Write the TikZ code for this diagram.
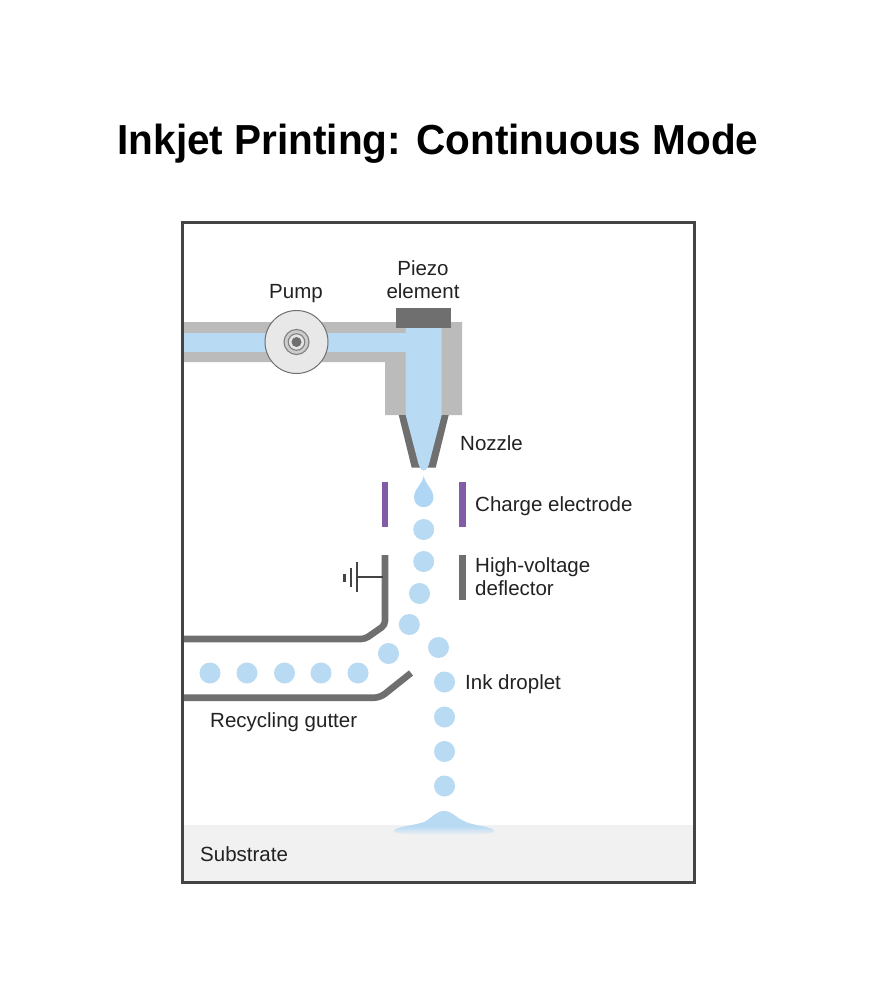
\documentclass[tikz,border=0pt]{standalone}
\usepackage{fontspec}
\setmainfont{Liberation Sans}
\newfontfamily\titlefont[FakeStretch=0.965]{Liberation Sans}
\definecolor{ink}{HTML}{B8DAF3}
\definecolor{inkb}{HTML}{B0D6F6}
\definecolor{wall}{HTML}{BBBBBB}
\definecolor{dark}{HTML}{6F6F6F}
\definecolor{purp}{HTML}{825CA7}
\definecolor{sub}{HTML}{F1F1F1}
\definecolor{frame}{HTML}{444444}
\definecolor{lab}{HTML}{222222}
\pgfdeclareverticalshading{splashfade}{100bp}{color(0bp)=(sub);color(25bp)=(sub);color(43bp)=(ink);color(75bp)=(ink);color(100bp)=(ink)}
\tikzset{
  x=1pt,y=-1pt,
  drop/.style={circle,fill=ink,draw=none,minimum size=21pt,inner sep=0pt},
  lbl/.style={text=lab,inner sep=0pt,anchor=base west,font=\fontsize{20.5}{23}\selectfont},
  plate/.style={draw=none,inner sep=0pt,minimum width=6.6pt,minimum height=45pt},
  gutter/.style={draw=dark,line width=6.6pt,rounded corners=#1},
  gnd/.style={draw=frame,line width=2.3pt}
}
\begin{document}
\begin{tikzpicture}
\useasboundingbox (0,0) rectangle (875,1000);
\fill[white] (0,0) rectangle (875,1000);
\node[anchor=base,inner sep=0pt,font=\titlefont\fontsize{42}{48}\bfseries\selectfont,text=black] (title) at (438,155) {Inkjet Printing: Continuous Mode};
% substrate
\fill[sub] (182.5,825) rectangle (694.5,882.5);
% pipe
\fill[wall] (182.5,322) -- (462,322) -- (462,415) -- (385,415) -- (385,362) -- (182.5,362) -- cycle;
\fill[ink] (182.5,332.7) rectangle (406,351.7);
% nozzle
\fill[dark] (398.7,415) -- (411.7,467.7) -- (435.7,467.7) -- (448.7,415) -- cycle;
\fill[ink] (405.7,327) -- (441.7,327) -- (441.7,415) -- (429,464) .. controls (427.5,469) and (425,470.7) .. (423.7,470.7) .. controls (422.4,470.7) and (420,469) .. (418.5,464) -- (405.7,415) -- cycle;
\fill[dark] (396,308) rectangle (451,327.7);
% pump
\node[circle,draw=dark,fill=black!9,line width=1pt,minimum size=63pt,inner sep=0pt] (pump) at (296.5,342) {};
\node[circle,draw=black!50,fill=black!20,line width=1.1pt,minimum size=25pt,inner sep=0pt] (ring1) at (pump) {};
\node[circle,draw=black!50,fill=black!10,line width=1.1pt,minimum size=16.5pt,inner sep=0pt] (ring2) at (pump) {};
\node[circle,fill=dark,minimum size=10pt,inner sep=0pt] (core) at (pump) {};
% first droplet
\fill[inkb] (423.7,476) .. controls (425,484) and (433.4,489) .. (433.4,497.5) .. controls (433.4,503) and (429,507.2) .. (423.7,507.2) .. controls (418.4,507.2) and (414,503) .. (414,497.5) .. controls (414,489) and (422.4,484) .. (423.7,476) -- cycle;
% electrodes
\node[plate,fill=purp] (elL) at (384.8,504.8) {};
\node[plate,fill=purp] (elR) at (462.6,504.8) {};
\node[plate,fill=dark] (defl) at (462.6,577.5) {};
% gutter
\coordinate (g1) at (385,555);
\coordinate (g2) at (385,625);
\coordinate (g3) at (365,639);
\coordinate (g4) at (182.5,639);
\coordinate (g5) at (182.5,697.7);
\coordinate (g6) at (380,697.7);
\coordinate (g7) at (411,673);
\draw[gutter=4pt,line cap=butt] (g1) -- (g2) -- (g3) -- (g4);
\draw[gutter=6pt,line cap=butt] (g5) -- (g6) -- (g7);
% ground
\coordinate (gA) at (383,577.3);
\coordinate (gB) at (356.7,577.3);
\draw[gnd] (gA) -- (gB);
\draw[gnd] (356.7,562) -- (356.7,592);
\draw[gnd] (350.7,568) -- (350.7,587);
\draw[gnd] (344.5,573.5) -- (344.5,582);
% droplets
\foreach \n/\px/\py in {a/423.7/529.5,b/423.7/561.5,c/419.5/593.5,d/409.3/624.5,e/388.5/653.5,f/358/673,g/321/673,h/284.5/673,i/247/673,j/210/673,k/438.5/647.5,l/444.5/682,m/444.5/717,n/444.5/751.5,o/444.5/786}
  \node[drop] (drop\n) at (\px,\py) {};
% splash
\path[shading=splashfade] (394,831) .. controls (394,827) and (412,826) .. (424,822) .. controls (432,818) and (436,811) .. (444,811) .. controls (452,811) and (456,818) .. (466,822) .. controls (476,826) and (494,827) .. (494,831) .. controls (494,834) and (480,835) .. (444,835) .. controls (408,835) and (394,834) .. (394,831) -- cycle;
% frame
\draw[frame,line width=2.4pt] (182.5,222.5) rectangle (694.5,882.5);
% labels
\node[lbl,anchor=base] (lpump) at (296,298) {Pump};
\node[lbl,anchor=base] (lpiezo) at (423,275) {Piezo};
\node[lbl,anchor=base] (lelem) at (423,298) {element};
\node[lbl] (lnoz) at (460,450) {Nozzle};
\node[lbl] (lchg) at (475,511) {Charge electrode};
\node[lbl] (lhv) at (475,572) {High-voltage};
\node[lbl] (ldef) at (475,595) {deflector};
\node[lbl] (ldrop) at (465,689) {Ink droplet};
\node[lbl] (lrec) at (210,727) {Recycling gutter};
\node[lbl] (lsub) at (200,861) {Substrate};
\end{tikzpicture}
\end{document}
